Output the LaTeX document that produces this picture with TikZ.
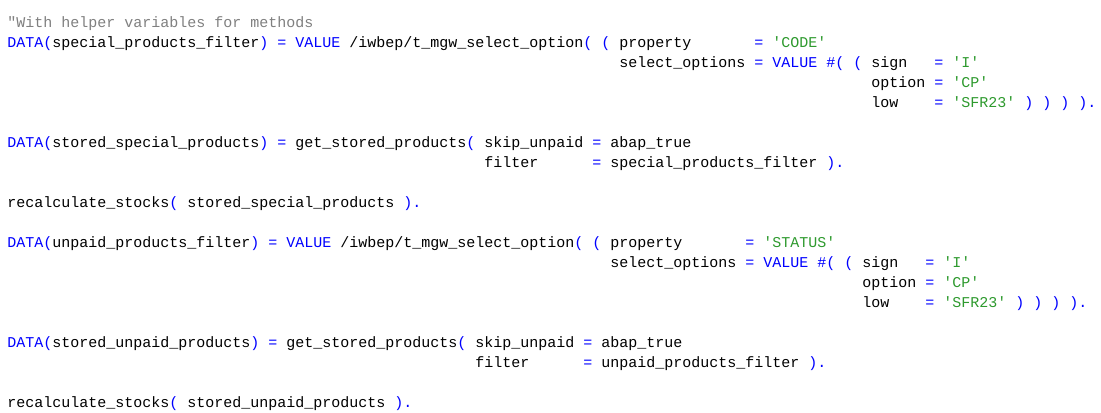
\documentclass[tikz,border=0pt]{standalone}
\usepackage{fontspec}
\setmonofont{Liberation Mono}
\definecolor{kw}{HTML}{0000FF}
\definecolor{st}{HTML}{2E9A2E}
\definecolor{cm}{HTML}{808080}
\newcommand{\Kw}[1]{\textcolor{kw}{#1}}
\newcommand{\Sg}[1]{\textcolor{st}{#1}}
\newcommand{\Gap}[1]{\hspace*{\dimexpr 6.75pt*#1\relax}}
\begin{document}
\begin{tikzpicture}[x=0.75pt,y=0.75pt,
  ln/.style={anchor=base west,inner sep=0pt,font=\fontsize{11.25pt}{12pt}\selectfont\ttfamily}]
\useasboundingbox[fill=white] (0,0) rectangle (1101,-412);
\newcommand{\Ln}[3]{\node[ln] (#1) at (7,{-27-20*#2}) {#3};}
\Ln{l0}{0}{\textcolor{cm}{"With\Gap1helper\Gap1variables\Gap1for\Gap1methods}}
\Ln{l1}{1}{\Kw{DATA(}special\_products\_filter\Kw{)}\Gap1\Kw{=}\Gap1\Kw{VALUE}\Gap1/iwbep/t\_mgw\_select\_option\Kw{(}\Gap1\Kw{(}\Gap1property\Gap7\Kw{=}\Gap1\Sg{'CODE'}}
\Ln{l2}{2}{\Gap{68}select\_options\Gap1\Kw{=}\Gap1\Kw{VALUE}\Gap1\Kw{\#(}\Gap1\Kw{(}\Gap1sign\Gap3\Kw{=}\Gap1\Sg{'I'}}
\Ln{l3}{3}{\Gap{96}option\Gap1\Kw{=}\Gap1\Sg{'CP'}}
\Ln{l4}{4}{\Gap{96}low\Gap4\Kw{=}\Gap1\Sg{'SFR23'}\Gap1\Kw{)}\Gap1\Kw{)}\Gap1\Kw{)}\Gap1\Kw{).}}
\Ln{l6}{6}{\Kw{DATA(}stored\_special\_products\Kw{)}\Gap1\Kw{=}\Gap1get\_stored\_products\Kw{(}\Gap1skip\_unpaid\Gap1\Kw{=}\Gap1abap\_true}
\Ln{l7}{7}{\Gap{53}filter\Gap6\Kw{=}\Gap1special\_products\_filter\Gap1\Kw{).}}
\Ln{l9}{9}{recalculate\_stocks\Kw{(}\Gap1stored\_special\_products\Gap1\Kw{).}}
\Ln{l11}{11}{\Kw{DATA(}unpaid\_products\_filter\Kw{)}\Gap1\Kw{=}\Gap1\Kw{VALUE}\Gap1/iwbep/t\_mgw\_select\_option\Kw{(}\Gap1\Kw{(}\Gap1property\Gap7\Kw{=}\Gap1\Sg{'STATUS'}}
\Ln{l12}{12}{\Gap{67}select\_options\Gap1\Kw{=}\Gap1\Kw{VALUE}\Gap1\Kw{\#(}\Gap1\Kw{(}\Gap1sign\Gap3\Kw{=}\Gap1\Sg{'I'}}
\Ln{l13}{13}{\Gap{95}option\Gap1\Kw{=}\Gap1\Sg{'CP'}}
\Ln{l14}{14}{\Gap{95}low\Gap4\Kw{=}\Gap1\Sg{'SFR23'}\Gap1\Kw{)}\Gap1\Kw{)}\Gap1\Kw{)}\Gap1\Kw{).}}
\Ln{l16}{16}{\Kw{DATA(}stored\_unpaid\_products\Kw{)}\Gap1\Kw{=}\Gap1get\_stored\_products\Kw{(}\Gap1skip\_unpaid\Gap1\Kw{=}\Gap1abap\_true}
\Ln{l17}{17}{\Gap{52}filter\Gap6\Kw{=}\Gap1unpaid\_products\_filter\Gap1\Kw{).}}
\Ln{l19}{19}{recalculate\_stocks\Kw{(}\Gap1stored\_unpaid\_products\Gap1\Kw{).}}
\end{tikzpicture}
\end{document}
